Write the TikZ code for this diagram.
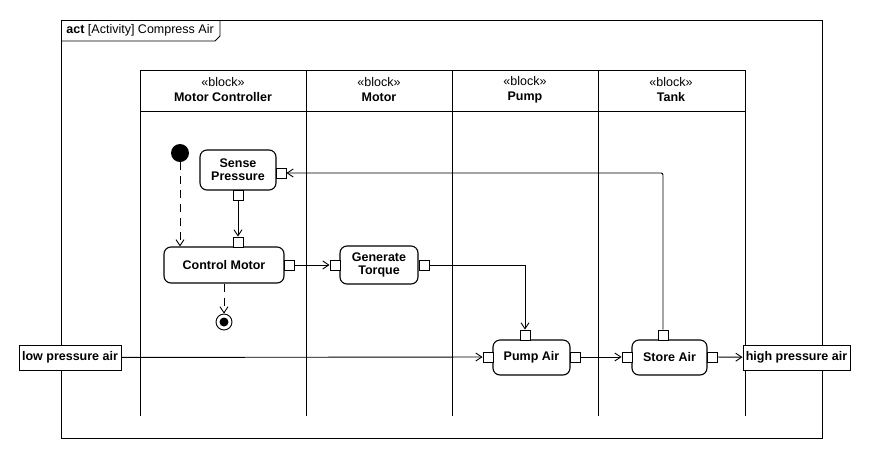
\documentclass[tikz,border=0pt]{standalone}
\usepackage{fontspec}
\setmainfont{Liberation Sans}
\usetikzlibrary{arrows.meta}
\begin{document}
\begin{tikzpicture}[x=1pt,y=-1pt,line width=0.9pt,
  act/.style={draw,rounded corners=7pt,line width=1.1pt,align=center,font=\bfseries\fontsize{12.5}{13}\selectfont,inner sep=0pt},
  pin/.style={draw,fill=white,minimum size=10pt,inner sep=0pt},
  obj/.style={draw,font=\bfseries\fontsize{12.5}{13}\selectfont,inner sep=0pt,minimum height=25pt,fill=white},
  flow/.style={-{Straight Barb[length=6pt,width=8pt]}},
  lbl/.style={font=\fontsize{12.5}{13}\selectfont,align=center}]
\useasboundingbox (0,0) rectangle (870,456);
% frame
\draw (61,20) rectangle (822,438);
\draw (61,41) -- (215,41) -- (220,36) -- (220,20);
\node[anchor=west,font=\fontsize{12.5}{13}\selectfont,inner sep=0pt] (title) at (66,30) {\textbf{act} [Activity] Compress Air};
% swimlanes
\draw (140,70) -- (745,70);
\draw (140,111) -- (745,111);
\foreach \x in {140,306,452,598,745} \draw (\x,70) -- (\x,416);
\node[lbl] (h1) at (223,90) {«block»\\[2pt]\textbf{Motor Controller}};
\node[lbl] (h2) at (379,90) {«block»\\[2pt]\textbf{Motor}};
\node[lbl] (h3) at (525,90) {«block»\\[2pt]\textbf{Pump}};
\node[lbl] (h4) at (671,90) {«block»\\[2pt]\textbf{Tank}};
% initial / final
\node[circle,fill=black,minimum size=18pt,inner sep=0pt] (init) at (180,153) {};
\node[circle,draw,minimum size=16pt,inner sep=0pt] (fin) at (224,322) {};
\node[circle,fill=black,minimum size=9pt,inner sep=0pt] (finc) at (224,322) {};
% actions
\node[act,minimum width=76pt,minimum height=40pt] (sense) at (238,170) {Sense\\Pressure};
\node[act,minimum width=120pt,minimum height=36pt] (ctrl) at (224,265) {Control Motor};
\node[act,minimum width=78pt,minimum height=38pt] (gen) at (379,265) {Generate\\Torque};
\node[act,minimum width=77pt,minimum height=35pt] (pump) at (531.5,357.5) {Pump Air};
\node[act,minimum width=75pt,minimum height=35pt] (store) at (669.5,357.5) {Store Air};
% pins
\node[pin] (sR) at (281,173) {};
\node[pin] (sB) at (238,195) {};
\node[pin] (cT) at (238,242) {};
\node[pin] (cR) at (289,265) {};
\node[pin] (gL) at (335,265) {};
\node[pin] (gR) at (424,265) {};
\node[pin] (pL) at (488,357) {};
\node[pin] (pT) at (525,335) {};
\node[pin] (pR) at (575,357) {};
\node[pin] (tL) at (627,357) {};
\node[pin] (tT) at (663,335) {};
\node[pin] (tR) at (712,357) {};
% objects
\node[obj,minimum width=102pt] (low) at (70,357.5) {low pressure air};
\node[obj,minimum width=107pt] (high) at (796.5,357.5) {high pressure air};
% flows
\draw[flow,dash pattern=on 8pt off 6pt] (init) -- (init |- ctrl.north);
\draw[flow,dash pattern=on 8pt off 6pt] (fin.north |- ctrl.south) -- (fin);
\draw[flow] (sB) -- (cT);
\draw[flow] (cR) -- (gL);
\draw[flow] (gR) -| (pT);
\draw[flow] (low) -- (pL);
\draw[flow] (pR) -- (tL);
\draw[flow] (tR) -- (high);
\draw[flow,rounded corners=2pt] (tT) |- (sR);
\end{tikzpicture}
\end{document}
